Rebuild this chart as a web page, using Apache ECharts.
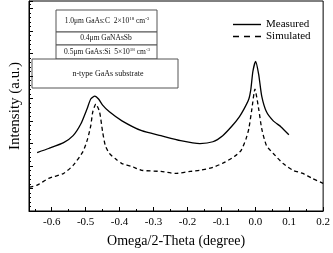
<!DOCTYPE html>
<html style="height:100%;">
<head>
    <meta charset="utf-8">
    <script src="https://cdn.jsdelivr.net/npm/echarts@6/dist/echarts.min.js"></script>
</head>
<body style="height:100%;margin:0;">
    <div id="main" style="width:333px;height:253px;"></div>
</body>
</html>
<script>
    // 2θ 偏移 (degree) 与 强度 (log 单位, a.u.)
    var measuredX = [-0.643,-0.609,-0.565,-0.537,-0.514,-0.496,-0.485,-0.473,-0.462,-0.450,-0.430,-0.393,-0.335,-0.278,-0.220,-0.163,-0.125,-0.096,-0.068,-0.047,-0.033,-0.019,-0.013,-0.007,0.001,0.010,0.019,0.033,0.053,0.076,0.099];
    var measuredY = [2.60,2.78,3.04,3.35,3.88,4.54,4.98,5.11,4.98,4.71,4.41,4.01,3.57,3.35,3.13,3.00,3.08,3.35,3.79,4.19,4.54,4.98,5.42,6.21,6.65,6.08,5.11,4.41,4.01,3.74,3.39];
    var simulatedX = [-0.666,-0.643,-0.609,-0.565,-0.537,-0.508,-0.494,-0.485,-0.479,-0.470,-0.459,-0.450,-0.442,-0.430,-0.413,-0.393,-0.364,-0.335,-0.278,-0.235,-0.191,-0.163,-0.125,-0.091,-0.062,-0.042,-0.027,-0.019,-0.010,-0.001,0.010,0.019,0.033,0.053,0.082,0.111,0.140,0.168,0.200];
    var simulatedY = [1.06,1.15,1.45,1.67,2.03,2.64,3.22,3.79,4.41,4.76,4.41,3.52,2.91,2.56,2.33,2.11,1.98,1.81,1.76,1.67,1.76,1.81,1.94,2.16,2.42,2.69,3.22,3.66,4.54,5.42,4.54,3.66,2.91,2.56,2.11,1.81,1.67,1.45,1.23];
    var seriesNames = ['Measured', 'Simulated'];

    function pairs(xs, ys) {
        var out = [];
        for (var i = 0; i < xs.length; i++) out.push([xs[i], ys[i]]);
        return out;
    }

    var font = 'Liberation Serif';
    var subRich = {
        a: {fontFamily: font, fontSize: 7.5, fill: '#111'},
        s: {fontFamily: font, fontSize: 5, fill: '#111', padding: [0, 0, 5, 0]}
    };
    var myChart = echarts.init(document.getElementById('main'));
    var option = {
        animation: false,
        backgroundColor: '#fff',
        textStyle: {fontFamily: font},
        grid: {left: 25, right: 7, top: 1, bottom: 40, show: true, borderColor: '#000', borderWidth: 1},
        legend: {
            orient: 'vertical',
            left: 228,
            top: 14,
            itemWidth: 28,
            itemHeight: 1.4,
            itemGap: 1,
            textStyle: {fontFamily: font, fontSize: 11, color: '#000'},
            data: [
                {name: seriesNames[0], icon: 'path://M0,0H28V1.4H0Z'},
                {name: seriesNames[1], icon: 'path://M0,0H6V1.4H0Z M11,0H17V1.4H11Z M22,0H28V1.4H22Z'}
            ]
        },
        xAxis: {
            type: 'value',
            min: -0.667,
            max: 0.2,
            splitNumber: 9,
            name: 'Omega/2-Theta (degree)',
            nameLocation: 'middle',
            nameGap: 23,
            nameTextStyle: {fontFamily: font, fontSize: 14, color: '#000'},
            axisLine: {onZero: false, lineStyle: {color: '#000'}},
            axisTick: {inside: true, length: 4, lineStyle: {color: '#000'}},
            minorTick: {show: true, splitNumber: 2, length: 2, lineStyle: {color: '#000'}},
            splitLine: {show: false},
            axisLabel: {
                fontFamily: font, fontSize: 11, color: '#000', margin: 6,
                formatter: function (v) {
                    var r = Math.round(v * 10) / 10;
                    return Math.abs(r - v) < 1e-6 ? r.toFixed(1) : '';
                }
            }
        },
        yAxis: {
            type: 'value',
            min: 0,
            max: 9.34,
            interval: 1,
            name: 'Intensity (a.u.)',
            nameLocation: 'middle',
            nameGap: 6,
            nameTextStyle: {fontFamily: font, fontSize: 15, color: '#000'},
            axisLine: {show: true, onZero: false, lineStyle: {color: '#000'}},
            axisTick: {inside: true, length: 4, lineStyle: {color: '#000'}},
            minorTick: {show: true, splitNumber: 5, length: 2, lineStyle: {color: '#000'}},
            splitLine: {show: false},
            axisLabel: {show: false}
        },
        graphic: [
            {type: 'rect', shape: {x: 56, y: 10, width: 101, height: 22}, style: {fill: '#fff', stroke: '#555', lineWidth: 1}},
            {type: 'rect', shape: {x: 56, y: 32, width: 101, height: 13}, style: {fill: '#fff', stroke: '#555', lineWidth: 1}},
            {type: 'rect', shape: {x: 56, y: 45, width: 101, height: 14}, style: {fill: '#fff', stroke: '#555', lineWidth: 1}},
            {type: 'rect', shape: {x: 32, y: 59, width: 146, height: 29}, style: {fill: '#fff', stroke: '#555', lineWidth: 1}},
            {type: 'text', x: 107, y: 21, style: {
                text: '{a|1.0μm GaAs:C  2×10}{s|18}{a| cm}{s|-3}',
                align: 'center', verticalAlign: 'middle', rich: subRich
            }},
            {type: 'text', x: 106, y: 38.5, style: {
                text: '0.4μm GaNAsSb', align: 'center', verticalAlign: 'middle',
                font: '7.5px ' + font, fill: '#111'
            }},
            {type: 'text', x: 107, y: 52, style: {
                text: '{a|0.5μm GaAs:Si  5×10}{s|18}{a| cm}{s|-3}',
                align: 'center', verticalAlign: 'middle', rich: subRich
            }},
            {type: 'text', x: 108, y: 73.5, style: {
                text: 'n-type GaAs substrate', align: 'center', verticalAlign: 'middle',
                font: '8px ' + font, fill: '#111'
            }}
        ],
        series: [
            {
                name: seriesNames[0],
                type: 'line',
                symbol: 'none',
                smooth: 0.2,
                lineStyle: {color: '#000', width: 1.3},
                itemStyle: {color: '#000'},
                data: pairs(measuredX, measuredY)
            },
            {
                name: seriesNames[1],
                type: 'line',
                symbol: 'none',
                smooth: 0.2,
                lineStyle: {color: '#000', width: 1.3, type: [4, 3]},
                itemStyle: {color: '#000'},
                data: pairs(simulatedX, simulatedY)
            }
        ]
    };
    myChart.setOption(option);
</script>
